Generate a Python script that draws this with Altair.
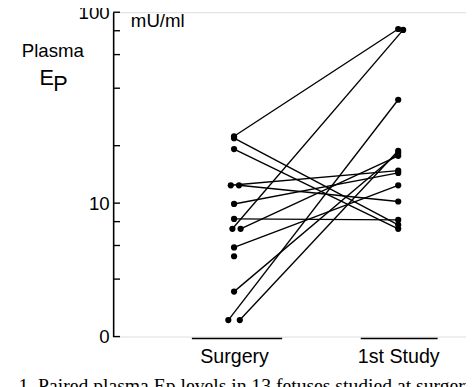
import altair as alt
import pandas as pd

# ---- data (mU/ml, log scale) ----
groups = ["Surgery", "1st Study"]
surgery = [22.4, 21.9, 19.2, 12.4, 12.4, 9.9, 8.27, 7.34, 7.34, 5.86, 3.44, 2.44, 2.44]
study = [81.7, 7.7, 7.34, 14.8, 10.2, 14.4, 8.17, 80.8, 17.7, 12.4, 18.3, 34.8, 18.8]
surgery_jitter = [0, 0, 0, -0.02, 0.03, 0, 0, -0.01, 0.04, 0, 0, -0.035, 0.035]
study_jitter = [0, 0, 0, 0, 0, 0, 0, 0.03, 0, 0, 0, 0, 0]
surgery_only = [5.27]
tick_values = [2, 4, 6, 8, 10, 20, 40, 60, 80, 100]
label_values = [2, 10, 100]
caption = "Fig. 1. Paired plasma Ep levels in 13 fetuses studied at surgery"

rows = []
for i, (a, b) in enumerate(zip(surgery, study)):
    rows.append({"id": i, "g": 0 + surgery_jitter[i], "v": a})
    rows.append({"id": i, "g": 1 + study_jitter[i], "v": b})
for j, a in enumerate(surgery_only):
    rows.append({"id": 100 + j, "g": 0, "v": a})
df = pd.DataFrame(rows)

W, H = 359, 330
xs = alt.Scale(domain=[-0.7365, 1.413], nice=False, zero=False)
ys = alt.Scale(type="log", domain=[2, 100], nice=False)

x_enc = alt.X("g:Q", scale=xs, axis=alt.Axis(
    values=[0, 1], labelExpr="datum.value == 0 ? 'Surgery' : '1st Study'",
    domain=False, ticks=False, grid=False, title=None, labelFontSize=20,
    labelFont="Liberation Sans", labelColor="black", labelPadding=10,
    labelBaseline="top"))
y_enc = alt.Y("v:Q", scale=ys, axis=alt.Axis(
    values=label_values, labelExpr="datum.value == 2 ? '0' : format(datum.value, 'd')",
    ticks=False, grid=False, title=None, domainColor="black", domainWidth=1.6,
    labelFontSize=19, labelFont="Liberation Sans", labelColor="black",
    labelPadding=4, labelBaseline="middle"))

lines = alt.Chart(df).mark_line(color="black", strokeWidth=1.4).encode(
    x=x_enc, y=y_enc, detail="id:N")
points = alt.Chart(df).mark_circle(color="black", opacity=1, size=40).encode(
    x="g:Q", y="v:Q")

ticks_df = pd.DataFrame({"t": tick_values})
ticks = alt.Chart(ticks_df).mark_rule(color="black", strokeWidth=1.4).encode(
    y=alt.Y("t:Q", scale=ys), x=alt.value(0), x2=alt.value(7))

base_df = pd.DataFrame({"lo": [-0.257, 0.772], "hi": [0.293, 1.24]})
bases = alt.Chart(base_df).mark_rule(color="black", strokeWidth=1.4).encode(
    x=alt.X("lo:Q", scale=xs), x2="hi:Q", y=alt.value(H + 2))

def txt(t, x, y, size, align="left", baseline="alphabetic"):
    return alt.Chart(pd.DataFrame({"t": [t]})).mark_text(
        align=align, baseline=baseline, fontSize=size, font="Liberation Sans",
        color="black").encode(text="t:N", x=alt.value(x), y=alt.value(y))

unit = txt("mU/ml", 18, 9, 19, baseline="middle")
plasma = txt("Plasma", -93, 46, 19)
e_t = txt("E", -75, 74, 22)
p_t = txt("P", -61, 80, 22)

chart = alt.layer(lines, points, ticks, bases, unit, plasma, e_t, p_t).properties(
    width=W, height=H,
    autosize=alt.AutoSizeParams(type="none"),
    padding={"left": 107, "top": 1, "right": 0, "bottom": 48},
    title=alt.TitleParams(caption, orient="bottom", anchor="start", frame="group",
                          dx=-133, offset=10, font="Liberation Serif", fontSize=20,
                          fontWeight="normal", color="black"),
).configure_view(stroke=None).configure(background="white")

chart.save("out.html", embed_options={"renderer": "svg", "actions": False})
